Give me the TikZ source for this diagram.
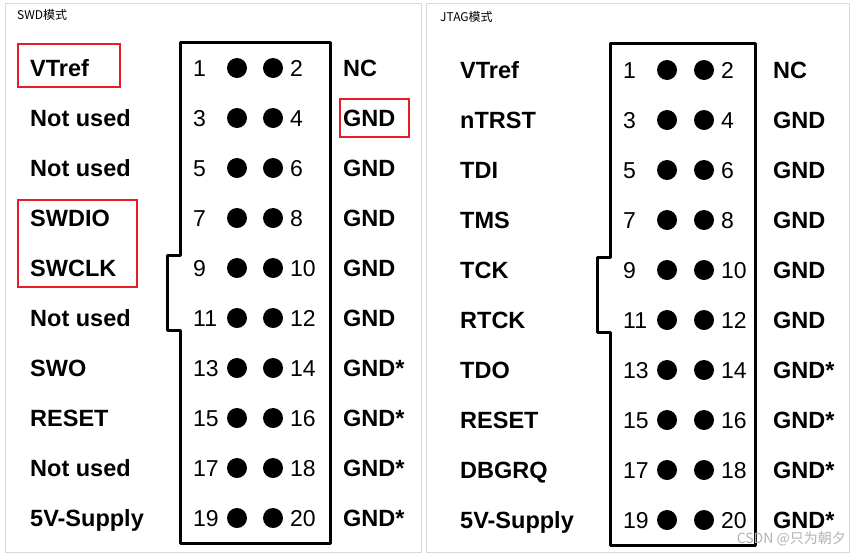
\documentclass[tikz,border=0pt]{standalone}
\usepackage{fontspec}
\setmainfont{Liberation Sans}
\newfontfamily\cjk{Noto Sans CJK SC}
\begin{document}
\begin{tikzpicture}[x=1pt,y=-1pt,
 lab/.style={font=\fontsize{23.5}{23.5}\selectfont\bfseries,anchor=base west,inner sep=0},
 num/.style={font=\fontsize{23}{23}\selectfont,inner sep=0,anchor=base west},
 pin/.style={circle,fill=black,minimum size=20pt,inner sep=0},
 hl/.style={draw={rgb,255:red,230;green,30;blue,40},line width=1.3pt},
 frame/.style={draw=black,line width=3pt,line join=round},
 panel/.style={draw=black!15,line width=1pt}]
\useasboundingbox (0,0) rectangle (851,555);
\fill[white] (0,0) rectangle (851,555);
\draw[panel] (5,3) rectangle (421,552);
\draw[panel] (426,3) rectangle (849,552);
\node[anchor=west,font=\cjk\fontsize{12}{12}\selectfont,inner sep=0] (t1) at (17,15) {SWD模式};
\node[anchor=west,font=\cjk\fontsize{12}{12}\selectfont,inner sep=0] (t2) at (440,17) {JTAG模式};
% connectors
\draw[frame] (180,42) -- (330,42) -- (330,543) -- (180,543) -- (180,330) -- (167,330) -- (167,255) -- (180,255) -- cycle;
\draw[frame] (610,43) -- (755,43) -- (755,545) -- (610,545) -- (610,332) -- (597,332) -- (597,257) -- (610,257) -- cycle;
\foreach \i [count=\k from 0] in {1,3,5,7,9,11,13,15,17,19}{
  \pgfmathtruncatemacro\j{\i+1}
  \pgfmathsetmacro\yy{68+50*\k}
  \pgfmathsetmacro\ya{76+50*\k}
  \node[pin] (la\i) at (237,\yy) {};
  \node[pin] (la\j) at (273,\yy) {};
  \node[num] (na\i) at (193,\ya) {\i};
  \node[num] (na\j) at (290,\ya) {\j};
  \pgfmathsetmacro\yb{70+50*\k}
  \pgfmathsetmacro\yc{78+50*\k}
  \node[pin] (lb\i) at (667,\yb) {};
  \node[pin] (lb\j) at (704,\yb) {};
  \node[num] (nb\i) at (623,\yc) {\i};
  \node[num] (nb\j) at (721,\yc) {\j};
}
\foreach \t [count=\k from 0] in {VTref,Not used,Not used,SWDIO,SWCLK,Not used,SWO,RESET,Not used,5V-Supply}
  \node[lab] (sl\k) at (30,76.5+50*\k) {\t};
\foreach \t [count=\k from 0] in {NC,GND,GND,GND,GND,GND,GND*,GND*,GND*,GND*}{
  \node[lab] (sr\k) at (343,76.5+50*\k) {\t};
  \node[lab] (jr\k) at (773,78.5+50*\k) {\t};}
\foreach \t [count=\k from 0] in {VTref,nTRST,TDI,TMS,TCK,RTCK,TDO,RESET,DBGRQ,5V-Supply}
  \node[lab] (jl\k) at (460,78.5+50*\k) {\t};
\draw[hl] (18,44) rectangle (120,87);
\draw[hl] (340,99) rectangle (409,137);
\draw[hl] (18,200) rectangle (137,287);
\node[anchor=east,font=\cjk\fontsize{14}{14}\selectfont,text=black!30,inner sep=0] (wm) at (846,539) {CSDN @只为朝夕};
\end{tikzpicture}
\end{document}
